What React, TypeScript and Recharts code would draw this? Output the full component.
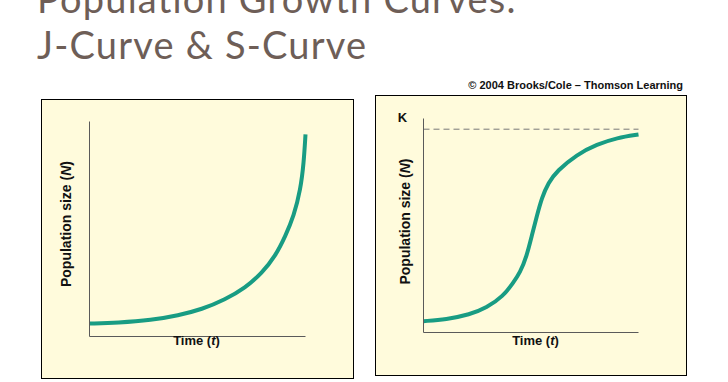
import { LineChart, Line, XAxis, YAxis, ReferenceLine } from "recharts";

// ── Data (0–100 scale on both axes) ─────────────────────────────────────────

const jTime = [0, 13.2, 28.7, 41.1, 52, 62.8, 72.1, 79.9, 86, 90.7, 94.6, 97.7, 99.2, 100];
const jSize = [6, 6.4, 7.6, 9.8, 12.6, 17.2, 22.6, 29.6, 37.3, 46.7, 56, 68.4, 80.8, 94];

const sTime = [0, 10.6, 21.5, 29.3, 37.1, 41.7, 44.9, 48, 50.3, 52.7, 55, 58.1, 62, 71.3, 80.7, 90, 100];
const sSize = [5.3, 6.1, 8.4, 11.5, 17, 23.2, 27.9, 35.7, 45, 54.3, 62.9, 70, 75.4, 83.2, 87.9, 91, 92.5];

const carryingCapacity = 95;

const titleLines = ["Population Growth Curves:", "J-Curve & S-Curve"];
const credit = "© 2004 Brooks/Cole – Thomson Learning";

const jData = jTime.map((t, i) => ({ t, n: jSize[i] }));
const sData = sTime.map((t, i) => ({ t, n: sSize[i] }));

// ── Styles ───────────────────────────────────────────────────────────────────

const CURVE = "#189c83";
const AXIS = "#5a5a5a";
const PANEL_BG = "#fffbdc";
const LABEL_FONT = "'Liberation Sans', Arial, sans-serif";
const TITLE_FONT = "Lato, 'Open Sans', sans-serif";

// ── Axis labels ──────────────────────────────────────────────────────────────

function timeLabel(dx: number, dy: number) {
  return (props: any) => {
    const vb = props.viewBox || {};
    return (
      <text
        x={vb.x + vb.width / 2 + dx}
        y={vb.y + dy}
        textAnchor="middle"
        fontFamily={LABEL_FONT}
        fontWeight="bold"
        fontSize={13}
        fill="#111"
      >
        Time (<tspan fontStyle="italic">t</tspan>)
      </text>
    );
  };
}

function sizeLabel(dx: number, dy: number) {
  return (props: any) => {
    const vb = props.viewBox || {};
    const cx = vb.x + vb.width + dx;
    const cy = vb.y + vb.height / 2 + dy;
    return (
      <text
        x={cx}
        y={cy}
        transform={`rotate(-90, ${cx}, ${cy})`}
        textAnchor="middle"
        dominantBaseline="central"
        fontFamily={LABEL_FONT}
        fontWeight="bold"
        fontSize={14}
        fill="#111"
      >
        Population size (<tspan fontStyle="italic">N</tspan>)
      </text>
    );
  };
}

function kLabel(props: any) {
  const vb = props.viewBox || {};
  return (
    <text
      x={vb.x - 21}
      y={vb.y - 7}
      textAnchor="middle"
      fontFamily={LABEL_FONT}
      fontWeight="bold"
      fontSize={13}
      fill="#111"
    >
      K
    </text>
  );
}

// ── Panel ────────────────────────────────────────────────────────────────────

interface PanelProps {
  left: number;
  top: number;
  width: number;
  height: number;
  data: any[];
  margin: { top: number; right: number; bottom: number; left: number };
  children: any;
}

function Panel({ left, top, width, height, data, margin, children }: PanelProps) {
  return (
    <div
      style={{
        position: "absolute",
        left,
        top,
        width,
        height,
        background: PANEL_BG,
        border: "1.5px solid #000",
        boxSizing: "border-box",
      }}
    >
      <LineChart width={width - 3} height={height - 3} data={data} margin={margin}>
        {children}
      </LineChart>
    </div>
  );
}

export default function App() {
  return (
    <div
      style={{
        position: "absolute",
        left: 0,
        top: 0,
        width: 728,
        height: 382,
        background: "#fff",
        overflow: "hidden",
      }}
    >
      {/* Title */}
      <div
        style={{
          position: "absolute",
          left: 37,
          top: -25,
          fontFamily: TITLE_FONT,
          fontSize: 38,
          letterSpacing: 1.2,
          lineHeight: "46px",
          color: "#6e5e57",
          whiteSpace: "nowrap",
        }}
      >
        {titleLines.map((l) => (
          <div key={l}>{l}</div>
        ))}
      </div>

      {/* Credit */}
      <div
        style={{
          position: "absolute",
          right: 45,
          top: 79,
          fontFamily: LABEL_FONT,
          fontWeight: "bold",
          fontSize: 11,
          color: "#111",
          whiteSpace: "nowrap",
        }}
      >
        {credit}
      </div>

      {/* J-curve */}
      <Panel
        left={41}
        top={99}
        width={313}
        height={280}
        data={jData}
        margin={{ top: 21.5, right: 46.5, bottom: 39.5, left: 46.5 }}
      >
        <XAxis
          dataKey="t"
          type="number"
          domain={[0, 100]}
          height={1}
          tick={false}
          tickLine={false}
          axisLine={{ stroke: AXIS, strokeWidth: 1 }}
          label={{ content: timeLabel(-1, 8) }}
        />
        <YAxis
          dataKey="n"
          type="number"
          domain={[0, 100]}
          width={1}
          tick={false}
          tickLine={false}
          axisLine={{ stroke: AXIS, strokeWidth: 1 }}
          label={{ content: sizeLabel(-23.5, -5) }}
        />
        <Line
          dataKey="n"
          type="basis"
          stroke={CURVE}
          strokeWidth={4}
          dot={false}
          isAnimationActive={false}
        />
      </Panel>

      {/* S-curve */}
      <Panel
        left={375}
        top={95}
        width={312}
        height={281}
        data={sData}
        margin={{ top: 22.5, right: 46.5, bottom: 40.5, left: 46.5 }}
      >
        <XAxis
          dataKey="t"
          type="number"
          domain={[0, 100]}
          height={1}
          tick={false}
          tickLine={false}
          axisLine={{ stroke: AXIS, strokeWidth: 1 }}
          label={{ content: timeLabel(4.5, 12) }}
        />
        <YAxis
          dataKey="n"
          type="number"
          domain={[0, 100]}
          width={1}
          tick={false}
          tickLine={false}
          axisLine={{ stroke: AXIS, strokeWidth: 1 }}
          label={{ content: sizeLabel(-19, -4) }}
        />
        <ReferenceLine
          y={carryingCapacity}
          stroke="#777"
          strokeDasharray="6 4"
          strokeWidth={1}
          label={{ content: kLabel }}
        />
        <Line
          dataKey="n"
          type="basis"
          stroke={CURVE}
          strokeWidth={4}
          dot={false}
          isAnimationActive={false}
        />
      </Panel>
    </div>
  );
}
